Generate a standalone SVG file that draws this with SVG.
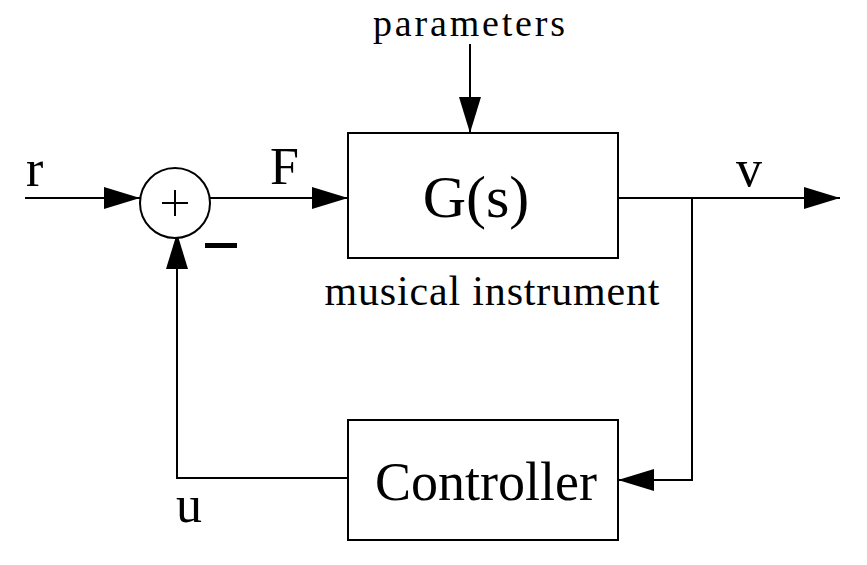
<svg xmlns="http://www.w3.org/2000/svg" width="867" height="565" viewBox="0 0 867 565">
<style>
.l{stroke:#000;stroke-width:2;fill:none}
.b{stroke:#000;stroke-width:2;fill:#fff}
text{font-family:"Liberation Serif",serif;fill:#000}
</style>
<defs><marker id="a" markerWidth="36" markerHeight="22" refX="36" refY="11" orient="auto" markerUnits="userSpaceOnUse"><path d="M0,0L36,11L0,22z" fill="#000"/></marker></defs>
<rect width="867" height="565" fill="#fff"/>
<g id="connectors">
<path class="l" d="M25,198H140" marker-end="url(#a)"/>
<path class="l" d="M210,198H348" marker-end="url(#a)"/>
<path class="l" d="M470,44V133" marker-end="url(#a)"/>
<path class="l" d="M618,198H840" marker-end="url(#a)"/>
<path class="l" d="M692,198V480H618" marker-end="url(#a)"/>
<path class="l" d="M348,478H177V233" marker-end="url(#a)"/>
</g>
<g id="sum"><circle class="b" cx="175" cy="203" r="35"/><path class="l" stroke-width="3" d="M162,203H188M175,190V216"/></g>
<g id="plant"><rect class="b" x="348" y="133" width="270" height="125"/><text x="476" y="217" font-size="60" text-anchor="middle">G(s)</text></g>
<g id="controller"><rect class="b" x="348" y="420" width="270" height="120"/><text x="486" y="500" font-size="54" text-anchor="middle">Controller</text></g>
<text x="26" y="186" font-size="52">r</text>
<text x="270" y="184" font-size="52">F</text>
<text x="736" y="186" font-size="52">v</text>
<text x="176" y="522" font-size="52">u</text>
<rect x="205" y="243" width="32" height="5" fill="#000"/>
<text x="492" y="305" font-size="42" text-anchor="middle" textLength="335">musical instrument</text>
<text x="469" y="36" font-size="38" text-anchor="middle" textLength="192">parameters</text>
</svg>
